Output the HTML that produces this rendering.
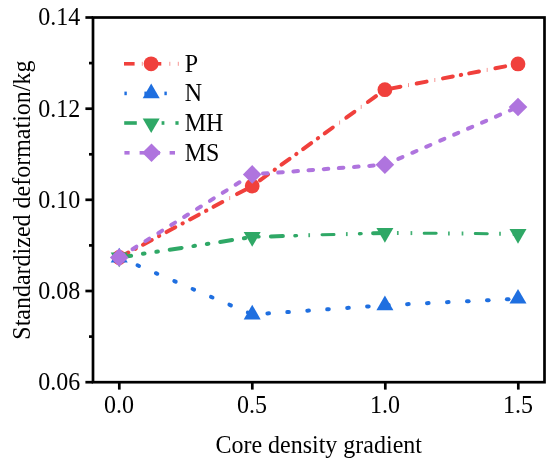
<!DOCTYPE html>
<html><head><meta charset="utf-8"><title>chart</title>
<style>
html,body{margin:0;padding:0;background:#fff;}
svg{display:block;}
text{font-family:"Liberation Serif",serif;fill:#000;}
</style></head><body>
<svg width="550" height="462" viewBox="0 0 550 462">
<rect width="550" height="462" fill="#fff"/>
<polyline points="119.5,257.4 128.3,252.6" stroke="#f0403c" stroke-width="4.0" stroke-linecap="round" fill="none"/>
<polyline points="135.5,248.8 135.8,248.6" stroke="#f0403c" stroke-width="4.0" stroke-linecap="round" fill="none"/>
<polyline points="143.0,244.7 151.8,240.0" stroke="#f0403c" stroke-width="4.0" stroke-linecap="round" fill="none"/>
<polyline points="159.0,236.1 159.3,235.9" stroke="#f0403c" stroke-width="4.0" stroke-linecap="round" fill="none"/>
<polyline points="166.5,232.1 175.3,227.3" stroke="#f0403c" stroke-width="4.0" stroke-linecap="round" fill="none"/>
<polyline points="182.5,223.5 182.8,223.3" stroke="#f0403c" stroke-width="4.0" stroke-linecap="round" fill="none"/>
<polyline points="190.0,219.4 198.8,214.7" stroke="#f0403c" stroke-width="4.0" stroke-linecap="round" fill="none"/>
<polyline points="206.0,210.8 206.4,210.6" stroke="#f0403c" stroke-width="4.0" stroke-linecap="round" fill="none"/>
<polyline points="213.5,206.8 222.3,202.1" stroke="#f0403c" stroke-width="4.0" stroke-linecap="round" fill="none"/>
<line x1="229.7" y1="196.1" x2="229.7" y2="200.1" stroke="#f0403c" stroke-width="1" opacity="0.55"/>
<polyline points="237.0,194.1 245.9,189.4" stroke="#f0403c" stroke-width="4.0" stroke-linecap="round" fill="none"/>
<polyline points="253.0,185.4 253.3,185.2" stroke="#f0403c" stroke-width="4.0" stroke-linecap="round" fill="none"/>
<polyline points="259.9,180.4 268.0,174.5" stroke="#f0403c" stroke-width="4.0" stroke-linecap="round" fill="none"/>
<polyline points="274.6,169.8 274.9,169.5" stroke="#f0403c" stroke-width="4.0" stroke-linecap="round" fill="none"/>
<polyline points="281.5,164.7 289.6,158.9" stroke="#f0403c" stroke-width="4.0" stroke-linecap="round" fill="none"/>
<polyline points="296.2,154.1 296.5,153.8" stroke="#f0403c" stroke-width="4.0" stroke-linecap="round" fill="none"/>
<polyline points="303.1,149.1 311.2,143.2" stroke="#f0403c" stroke-width="4.0" stroke-linecap="round" fill="none"/>
<polyline points="317.8,138.4 318.1,138.2" stroke="#f0403c" stroke-width="4.0" stroke-linecap="round" fill="none"/>
<polyline points="324.7,133.4 332.8,127.5" stroke="#f0403c" stroke-width="4.0" stroke-linecap="round" fill="none"/>
<line x1="339.6" y1="120.6" x2="339.6" y2="124.6" stroke="#f0403c" stroke-width="1" opacity="0.55"/>
<polyline points="346.3,117.7 354.4,111.8" stroke="#f0403c" stroke-width="4.0" stroke-linecap="round" fill="none"/>
<line x1="361.2" y1="104.9" x2="361.2" y2="108.9" stroke="#f0403c" stroke-width="1" opacity="0.55"/>
<polyline points="367.9,102.0 376.0,96.1" stroke="#f0403c" stroke-width="4.0" stroke-linecap="round" fill="none"/>
<line x1="382.8" y1="89.2" x2="382.8" y2="93.2" stroke="#f0403c" stroke-width="1" opacity="0.55"/>
<polyline points="390.5,88.6 400.4,86.7" stroke="#f0403c" stroke-width="4.0" stroke-linecap="round" fill="none"/>
<line x1="408.5" y1="83.1" x2="408.5" y2="87.1" stroke="#f0403c" stroke-width="1" opacity="0.55"/>
<polyline points="416.7,83.5 426.6,81.6" stroke="#f0403c" stroke-width="4.0" stroke-linecap="round" fill="none"/>
<line x1="434.8" y1="78.0" x2="434.8" y2="82.0" stroke="#f0403c" stroke-width="1" opacity="0.55"/>
<polyline points="443.0,78.4 452.8,76.5" stroke="#f0403c" stroke-width="4.0" stroke-linecap="round" fill="none"/>
<polyline points="460.8,75.0 461.2,74.9" stroke="#f0403c" stroke-width="4.0" stroke-linecap="round" fill="none"/>
<polyline points="469.2,73.4 479.0,71.5" stroke="#f0403c" stroke-width="4.0" stroke-linecap="round" fill="none"/>
<line x1="487.2" y1="67.9" x2="487.2" y2="71.9" stroke="#f0403c" stroke-width="1" opacity="0.55"/>
<polyline points="495.4,68.3 505.2,66.4" stroke="#f0403c" stroke-width="4.0" stroke-linecap="round" fill="none"/>
<line x1="513.4" y1="62.8" x2="513.4" y2="66.8" stroke="#f0403c" stroke-width="1" opacity="0.55"/>
<circle cx="119.2" cy="257.5" r="7.4" fill="#f0403c"/>
<circle cx="252.2" cy="186.0" r="7.4" fill="#f0403c"/>
<circle cx="384.9" cy="89.7" r="7.4" fill="#f0403c"/>
<circle cx="518.0" cy="63.9" r="7.4" fill="#f0403c"/>
<polyline points="119.1,257.5 120.6,258.1" stroke="#1f6fe0" stroke-width="4.0" stroke-linecap="round" fill="none"/>
<polyline points="137.5,265.3 139.0,266.0" stroke="#1f6fe0" stroke-width="4.0" stroke-linecap="round" fill="none"/>
<polyline points="155.9,273.2 157.3,273.8" stroke="#1f6fe0" stroke-width="4.0" stroke-linecap="round" fill="none"/>
<polyline points="174.3,281.1 175.7,281.7" stroke="#1f6fe0" stroke-width="4.0" stroke-linecap="round" fill="none"/>
<polyline points="192.6,289.0 194.1,289.6" stroke="#1f6fe0" stroke-width="4.0" stroke-linecap="round" fill="none"/>
<polyline points="211.0,296.9 212.5,297.5" stroke="#1f6fe0" stroke-width="4.0" stroke-linecap="round" fill="none"/>
<polyline points="229.4,304.7 230.9,305.4" stroke="#1f6fe0" stroke-width="4.0" stroke-linecap="round" fill="none"/>
<polyline points="247.8,312.6 249.3,313.2" stroke="#1f6fe0" stroke-width="4.0" stroke-linecap="round" fill="none"/>
<polyline points="267.4,313.4 269.0,313.3" stroke="#1f6fe0" stroke-width="4.0" stroke-linecap="round" fill="none"/>
<polyline points="287.3,312.1 288.9,312.0" stroke="#1f6fe0" stroke-width="4.0" stroke-linecap="round" fill="none"/>
<polyline points="307.3,310.7 308.9,310.6" stroke="#1f6fe0" stroke-width="4.0" stroke-linecap="round" fill="none"/>
<polyline points="327.2,309.3 328.8,309.2" stroke="#1f6fe0" stroke-width="4.0" stroke-linecap="round" fill="none"/>
<polyline points="347.2,307.9 348.8,307.8" stroke="#1f6fe0" stroke-width="4.0" stroke-linecap="round" fill="none"/>
<polyline points="367.1,306.5 368.7,306.4" stroke="#1f6fe0" stroke-width="4.0" stroke-linecap="round" fill="none"/>
<polyline points="387.1,305.2 388.7,305.1" stroke="#1f6fe0" stroke-width="4.0" stroke-linecap="round" fill="none"/>
<polyline points="407.1,304.2 408.7,304.1" stroke="#1f6fe0" stroke-width="4.0" stroke-linecap="round" fill="none"/>
<polyline points="427.0,303.2 428.6,303.1" stroke="#1f6fe0" stroke-width="4.0" stroke-linecap="round" fill="none"/>
<polyline points="447.0,302.2 448.6,302.1" stroke="#1f6fe0" stroke-width="4.0" stroke-linecap="round" fill="none"/>
<polyline points="467.0,301.2 468.6,301.2" stroke="#1f6fe0" stroke-width="4.0" stroke-linecap="round" fill="none"/>
<polyline points="487.0,300.2 488.6,300.2" stroke="#1f6fe0" stroke-width="4.0" stroke-linecap="round" fill="none"/>
<polyline points="506.9,299.2 508.5,299.2" stroke="#1f6fe0" stroke-width="4.0" stroke-linecap="round" fill="none"/>
<polygon points="119.2,247.7 110.7,262.4 127.7,262.4" fill="#1f6fe0"/>
<polygon points="252.2,304.7 243.7,319.4 260.7,319.4" fill="#1f6fe0"/>
<polygon points="384.9,295.5 376.4,310.2 393.4,310.2" fill="#1f6fe0"/>
<polygon points="518.0,288.9 509.5,303.6 526.5,303.6" fill="#1f6fe0"/>
<polyline points="119.2,257.5 131.1,255.7" stroke="#2fa866" stroke-width="4.0" stroke-linecap="round" fill="none"/>
<polyline points="142.9,253.8 144.5,253.6" stroke="#2fa866" stroke-width="4.0" stroke-linecap="round" fill="none"/>
<polyline points="156.3,251.8 157.9,251.5" stroke="#2fa866" stroke-width="4.0" stroke-linecap="round" fill="none"/>
<polyline points="169.7,249.7 181.6,247.9" stroke="#2fa866" stroke-width="4.0" stroke-linecap="round" fill="none"/>
<polyline points="193.4,246.1 195.0,245.8" stroke="#2fa866" stroke-width="4.0" stroke-linecap="round" fill="none"/>
<polyline points="206.8,244.0 208.4,243.8" stroke="#2fa866" stroke-width="4.0" stroke-linecap="round" fill="none"/>
<polyline points="220.2,241.9 232.1,240.1" stroke="#2fa866" stroke-width="4.0" stroke-linecap="round" fill="none"/>
<polyline points="243.9,238.3 245.5,238.0" stroke="#2fa866" stroke-width="4.0" stroke-linecap="round" fill="none"/>
<polyline points="257.4,236.8 259.0,236.8" stroke="#2fa866" stroke-width="3.4" stroke-linecap="round" fill="none"/>
<polyline points="270.9,236.4 282.9,236.1" stroke="#2fa866" stroke-width="4.0" stroke-linecap="round" fill="none"/>
<polyline points="294.9,235.7 296.5,235.6" stroke="#2fa866" stroke-width="3.4" stroke-linecap="round" fill="none"/>
<line x1="309.2" y1="233.2" x2="309.2" y2="237.2" stroke="#2fa866" stroke-width="1.7" opacity="0.9"/>
<polyline points="322.0,234.8 334.0,234.5" stroke="#2fa866" stroke-width="3.0" stroke-linecap="round" fill="none"/>
<line x1="346.8" y1="232.1" x2="346.8" y2="236.1" stroke="#2fa866" stroke-width="1.7" opacity="0.9"/>
<polyline points="359.5,233.7 361.1,233.6" stroke="#2fa866" stroke-width="3.4" stroke-linecap="round" fill="none"/>
<polyline points="373.1,233.3 384.9,232.9 385.1,232.9" stroke="#2fa866" stroke-width="4.0" stroke-linecap="round" fill="none"/>
<line x1="397.8" y1="231.0" x2="397.8" y2="235.0" stroke="#2fa866" stroke-width="1.7" opacity="0.9"/>
<line x1="411.4" y1="231.1" x2="411.4" y2="235.1" stroke="#2fa866" stroke-width="1.7" opacity="0.9"/>
<polyline points="424.2,233.2 436.2,233.3" stroke="#2fa866" stroke-width="3.0" stroke-linecap="round" fill="none"/>
<line x1="448.9" y1="231.4" x2="448.9" y2="235.4" stroke="#2fa866" stroke-width="1.7" opacity="0.9"/>
<line x1="462.5" y1="231.5" x2="462.5" y2="235.5" stroke="#2fa866" stroke-width="1.7" opacity="0.9"/>
<polyline points="475.3,233.6 487.3,233.7" stroke="#2fa866" stroke-width="3.0" stroke-linecap="round" fill="none"/>
<line x1="500.0" y1="231.8" x2="500.0" y2="235.8" stroke="#2fa866" stroke-width="1.7" opacity="0.9"/>
<line x1="513.6" y1="231.9" x2="513.6" y2="235.9" stroke="#2fa866" stroke-width="1.7" opacity="0.9"/>
<polygon points="119.2,267.3 110.7,252.6 127.7,252.6" fill="#2fa866"/>
<polygon points="252.2,246.8 243.7,232.1 260.7,232.1" fill="#2fa866"/>
<polygon points="384.9,242.7 376.4,228.0 393.4,228.0" fill="#2fa866"/>
<polygon points="518.0,243.7 509.5,229.0 526.5,229.0" fill="#2fa866"/>
<polyline points="119.6,257.2 123.5,254.8" stroke="#af74de" stroke-width="4.0" stroke-linecap="round" fill="none"/>
<polyline points="132.5,249.2 136.4,246.7" stroke="#af74de" stroke-width="4.0" stroke-linecap="round" fill="none"/>
<polyline points="145.4,241.1 149.3,238.7" stroke="#af74de" stroke-width="4.0" stroke-linecap="round" fill="none"/>
<polyline points="158.3,233.1 162.2,230.6" stroke="#af74de" stroke-width="4.0" stroke-linecap="round" fill="none"/>
<polyline points="171.2,225.0 175.1,222.6" stroke="#af74de" stroke-width="4.0" stroke-linecap="round" fill="none"/>
<polyline points="184.1,217.0 188.0,214.5" stroke="#af74de" stroke-width="4.0" stroke-linecap="round" fill="none"/>
<polyline points="197.0,208.9 200.9,206.5" stroke="#af74de" stroke-width="4.0" stroke-linecap="round" fill="none"/>
<polyline points="209.9,200.9 213.8,198.4" stroke="#af74de" stroke-width="4.0" stroke-linecap="round" fill="none"/>
<polyline points="222.7,192.8 226.7,190.4" stroke="#af74de" stroke-width="4.0" stroke-linecap="round" fill="none"/>
<polyline points="235.6,184.7 239.5,182.3" stroke="#af74de" stroke-width="4.0" stroke-linecap="round" fill="none"/>
<polyline points="248.5,176.7 252.2,174.4 252.5,174.4" stroke="#af74de" stroke-width="4.0" stroke-linecap="round" fill="none"/>
<polyline points="263.0,173.6 267.6,173.3" stroke="#af74de" stroke-width="4.0" stroke-linecap="round" fill="none"/>
<polyline points="278.2,172.5 282.8,172.2" stroke="#af74de" stroke-width="4.0" stroke-linecap="round" fill="none"/>
<polyline points="293.4,171.4 298.0,171.1" stroke="#af74de" stroke-width="4.0" stroke-linecap="round" fill="none"/>
<polyline points="308.5,170.3 313.1,169.9" stroke="#af74de" stroke-width="4.0" stroke-linecap="round" fill="none"/>
<polyline points="323.7,169.2 328.3,168.8" stroke="#af74de" stroke-width="4.0" stroke-linecap="round" fill="none"/>
<polyline points="338.8,168.1 343.4,167.7" stroke="#af74de" stroke-width="4.0" stroke-linecap="round" fill="none"/>
<polyline points="354.0,167.0 358.6,166.6" stroke="#af74de" stroke-width="4.0" stroke-linecap="round" fill="none"/>
<polyline points="369.2,165.9 373.7,165.5" stroke="#af74de" stroke-width="4.0" stroke-linecap="round" fill="none"/>
<polyline points="384.3,164.7 384.9,164.7 388.6,163.1" stroke="#af74de" stroke-width="4.0" stroke-linecap="round" fill="none"/>
<polyline points="398.3,158.9 402.5,157.1" stroke="#af74de" stroke-width="4.0" stroke-linecap="round" fill="none"/>
<polyline points="412.3,152.8 416.5,151.0" stroke="#af74de" stroke-width="4.0" stroke-linecap="round" fill="none"/>
<polyline points="426.2,146.8 430.4,145.0" stroke="#af74de" stroke-width="4.0" stroke-linecap="round" fill="none"/>
<polyline points="440.2,140.7 444.4,138.9" stroke="#af74de" stroke-width="4.0" stroke-linecap="round" fill="none"/>
<polyline points="454.1,134.7 458.3,132.9" stroke="#af74de" stroke-width="4.0" stroke-linecap="round" fill="none"/>
<polyline points="468.0,128.7 472.3,126.8" stroke="#af74de" stroke-width="4.0" stroke-linecap="round" fill="none"/>
<polyline points="482.0,122.6 486.2,120.8" stroke="#af74de" stroke-width="4.0" stroke-linecap="round" fill="none"/>
<polyline points="495.9,116.6 500.2,114.7" stroke="#af74de" stroke-width="4.0" stroke-linecap="round" fill="none"/>
<polyline points="509.9,110.5 514.1,108.7" stroke="#af74de" stroke-width="4.0" stroke-linecap="round" fill="none"/>
<polygon points="119.2,248.2 128.5,257.5 119.2,266.8 109.9,257.5" fill="#af74de"/>
<polygon points="252.2,165.1 261.5,174.4 252.2,183.7 242.9,174.4" fill="#af74de"/>
<polygon points="384.9,155.4 394.2,164.7 384.9,174.0 375.6,164.7" fill="#af74de"/>
<polygon points="518.0,97.7 527.3,107.0 518.0,116.3 508.7,107.0" fill="#af74de"/>
<rect x="93.0" y="17.5" width="451.5" height="364.7" fill="none" stroke="#000" stroke-width="2.7"/>
<g stroke="#000" stroke-width="2.7">
<line x1="85.4" y1="17.5" x2="93.0" y2="17.5"/>
<line x1="85.4" y1="108.7" x2="93.0" y2="108.7"/>
<line x1="85.4" y1="199.8" x2="93.0" y2="199.8"/>
<line x1="85.4" y1="291.0" x2="93.0" y2="291.0"/>
<line x1="85.4" y1="382.2" x2="93.0" y2="382.2"/>
<line x1="89.0" y1="63.1" x2="93.0" y2="63.1"/>
<line x1="89.0" y1="154.3" x2="93.0" y2="154.3"/>
<line x1="89.0" y1="245.4" x2="93.0" y2="245.4"/>
<line x1="89.0" y1="336.6" x2="93.0" y2="336.6"/>
<line x1="119.3" y1="382.2" x2="119.3" y2="389.59999999999997"/>
<line x1="252.3" y1="382.2" x2="252.3" y2="389.59999999999997"/>
<line x1="385.3" y1="382.2" x2="385.3" y2="389.59999999999997"/>
<line x1="518.3" y1="382.2" x2="518.3" y2="389.59999999999997"/>
</g>
<g font-size="24">
<text transform="translate(80.3,25.4) scale(1,1.06)" text-anchor="end">0.14</text>
<text transform="translate(80.3,116.6) scale(1,1.06)" text-anchor="end">0.12</text>
<text transform="translate(80.3,207.8) scale(1,1.06)" text-anchor="end">0.10</text>
<text transform="translate(80.3,298.9) scale(1,1.06)" text-anchor="end">0.08</text>
<text transform="translate(80.3,390.1) scale(1,1.06)" text-anchor="end">0.06</text>
<text transform="translate(119.0,413.4) scale(1,1.06)" text-anchor="middle">0.0</text>
<text transform="translate(252.0,413.4) scale(1,1.06)" text-anchor="middle">0.5</text>
<text transform="translate(385.0,413.4) scale(1,1.06)" text-anchor="middle">1.0</text>
<text transform="translate(518.0,413.4) scale(1,1.06)" text-anchor="middle">1.5</text>
</g>
<text transform="translate(318.7,452.7) scale(1,1.03)" font-size="24" text-anchor="middle">Core density gradient</text>
<text transform="translate(29.8,200.1) rotate(-90) scale(1,1.03)" font-size="24" text-anchor="middle">Standardized deformation/kg</text>
<line x1="124" y1="63.8" x2="134.6" y2="63.8" stroke="#f0403c" stroke-width="3.6"/>
<line x1="142.3" y1="61.8" x2="142.3" y2="65.8" stroke="#f0403c" stroke-width="1" opacity="0.55"/>
<line x1="151" y1="63.8" x2="161.3" y2="63.8" stroke="#f0403c" stroke-width="3.6"/>
<line x1="169.8" y1="61.8" x2="169.8" y2="65.8" stroke="#f0403c" stroke-width="1" opacity="0.55"/>
<line x1="178.3" y1="61.8" x2="178.3" y2="65.8" stroke="#f0403c" stroke-width="1" opacity="0.55"/>
<circle cx="151.1" cy="63.8" r="7.4" fill="#f0403c"/>
<line x1="124.4" y1="93.4" x2="126.8" y2="93.4" stroke="#1f6fe0" stroke-width="3.6"/>
<line x1="144.4" y1="93.4" x2="146.8" y2="93.4" stroke="#1f6fe0" stroke-width="3.6"/>
<line x1="164.4" y1="93.4" x2="166.8" y2="93.4" stroke="#1f6fe0" stroke-width="3.6"/>
<polygon points="151.2,83.6 142.7,98.3 159.7,98.3" fill="#1f6fe0"/>
<line x1="124.2" y1="123.0" x2="136.8" y2="123.0" stroke="#2fa866" stroke-width="3.6"/>
<line x1="161.6" y1="123.0" x2="164.4" y2="123.0" stroke="#2fa866" stroke-width="3.6"/>
<line x1="175.4" y1="123.0" x2="178.6" y2="123.0" stroke="#2fa866" stroke-width="3.6"/>
<polygon points="151.2,133.1 142.7,118.4 159.7,118.4" fill="#2fa866"/>
<line x1="124.4" y1="152.8" x2="129.6" y2="152.8" stroke="#af74de" stroke-width="3.6"/>
<line x1="139.6" y1="152.8" x2="144.8" y2="152.8" stroke="#af74de" stroke-width="3.6"/>
<line x1="154.8" y1="152.8" x2="160" y2="152.8" stroke="#af74de" stroke-width="3.6"/>
<line x1="169.6" y1="152.8" x2="175" y2="152.8" stroke="#af74de" stroke-width="3.6"/>
<polygon points="151.5,143.5 160.8,152.8 151.5,162.1 142.2,152.8" fill="#af74de"/>
<text transform="translate(184.7,71.6) scale(1,1.03)" font-size="24">P</text>
<text transform="translate(184.7,101.2) scale(1,1.03)" font-size="24">N</text>
<text transform="translate(184.7,130.8) scale(1,1.03)" font-size="24">MH</text>
<text transform="translate(184.7,160.6) scale(1,1.03)" font-size="24">MS</text>
</svg></body></html>
